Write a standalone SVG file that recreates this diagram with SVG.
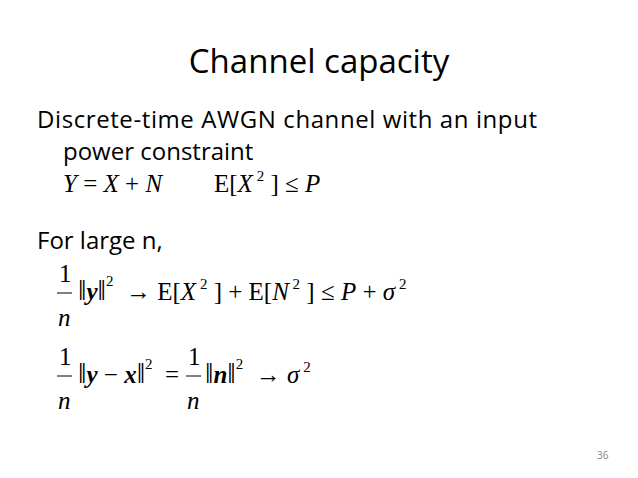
<svg xmlns="http://www.w3.org/2000/svg" width="638" height="478" viewBox="0 0 638 478">
<style>
.s{font-family:"Open Sans","Liberation Sans",sans-serif;fill:#000}
.m{font-family:"Liberation Serif",serif;font-size:25px;fill:#000}
.i{font-style:italic}
.b{font-weight:bold;font-style:italic}
.sup{font-size:15px}
.n{font-size:30px}
</style>
<rect width="638" height="478" fill="#fff"/>
<text class="s" x="319" y="73" font-size="33" text-anchor="middle">Channel capacity</text>
<text class="s" x="37" y="128" font-size="24" textLength="500">Discrete-time AWGN channel with an input</text>
<text class="s" x="63" y="160" font-size="24">power constraint</text>
<text class="m" x="63" y="192" xml:space="preserve"><tspan class="i">Y</tspan> = <tspan class="i">X</tspan> + <tspan class="i">N</tspan></text>
<text class="m" x="214" y="192" xml:space="preserve">E[<tspan class="i">X</tspan><tspan class="sup" dy="-11"> 2</tspan><tspan dy="11"> ] ≤ </tspan><tspan class="i">P</tspan></text>
<text class="s" x="37" y="249" font-size="24">For large n,</text>
<g id="eq1">
<text class="m" x="59" y="282">1</text>
<line x1="57" y1="293" x2="72" y2="293" stroke="#000" stroke-width="1"/>
<text class="m i" x="58" y="326">n</text>
<text class="m" x="78" y="300" xml:space="preserve"><tspan class="n">‖</tspan><tspan class="b">y</tspan><tspan class="n">‖</tspan><tspan class="sup" dy="-14">2</tspan><tspan dy="14">  → E[</tspan><tspan class="i">X</tspan><tspan class="sup" dy="-11"> 2</tspan><tspan dy="11"> ] + E[</tspan><tspan class="i">N</tspan><tspan class="sup" dy="-11"> 2</tspan><tspan dy="11"> ] ≤ </tspan><tspan class="i">P</tspan> + <tspan class="i">σ</tspan><tspan class="sup" dy="-11"> 2</tspan></text>
</g>
<g id="eq2">
<text class="m" x="59" y="365">1</text>
<line x1="57" y1="376" x2="72" y2="376" stroke="#000" stroke-width="1"/>
<text class="m i" x="58" y="409">n</text>
<text class="m" x="78" y="383" xml:space="preserve"><tspan class="n">‖</tspan><tspan class="b">y</tspan> − <tspan class="b">x</tspan><tspan class="n">‖</tspan><tspan class="sup" dy="-14">2</tspan><tspan dy="14">  = </tspan></text>
<text class="m" x="188" y="365">1</text>
<line x1="186" y1="376" x2="201" y2="376" stroke="#000" stroke-width="1"/>
<text class="m i" x="187" y="409">n</text>
<text class="m" x="205" y="383" xml:space="preserve"><tspan class="n">‖</tspan><tspan class="b">n</tspan><tspan class="n">‖</tspan><tspan class="sup" dy="-14">2</tspan><tspan dy="14">  → </tspan><tspan class="i">σ</tspan><tspan class="sup" dy="-11"> 2</tspan></text>
</g>
<text x="597" y="459" font-family="Open Sans, sans-serif" font-size="10" fill="#888">36</text>
</svg>
